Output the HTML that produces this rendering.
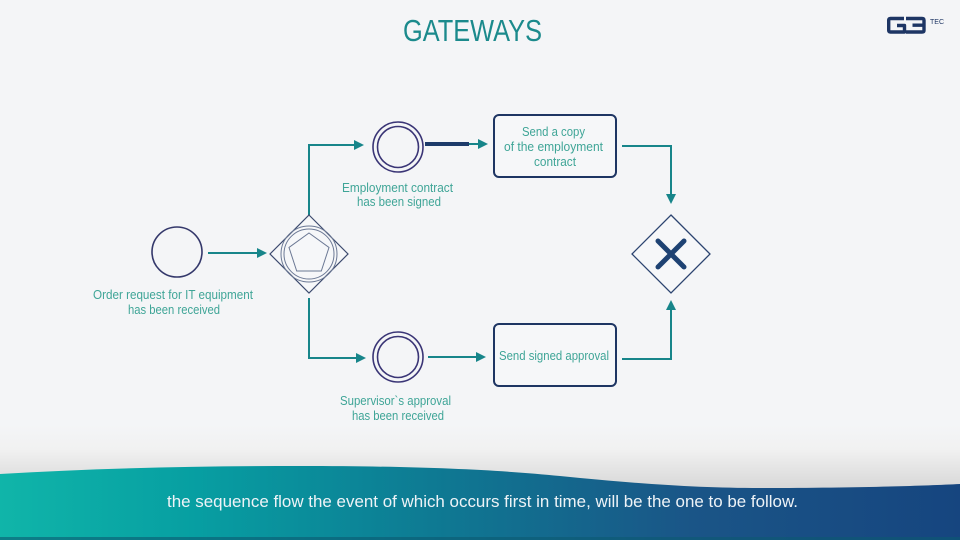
<!DOCTYPE html>
<html><head><meta charset="utf-8"><style>
html,body{margin:0;padding:0;width:960px;height:540px;overflow:hidden;background:#f4f5f7;}
svg{display:block;}
text{font-family:"Liberation Sans",sans-serif;}
</style></head><body>
<svg width="960" height="540" viewBox="0 0 960 540" xmlns="http://www.w3.org/2000/svg">
<defs>
<linearGradient id="shade" x1="0" y1="0" x2="0" y2="1">
<stop offset="0" stop-color="#f4f5f7"/>
<stop offset="0.35" stop-color="#f1f1f1"/>
<stop offset="1" stop-color="#d3d3d3"/>
</linearGradient>
<linearGradient id="wave" x1="0" y1="0" x2="1" y2="0">
<stop offset="0" stop-color="#10b5a9"/>
<stop offset="0.2" stop-color="#079fa2"/>
<stop offset="0.45" stop-color="#0e7a93"/>
<stop offset="0.72" stop-color="#1a5587"/>
<stop offset="1" stop-color="#16457f"/>
</linearGradient>
</defs>
<rect x="0" y="0" width="960" height="540" fill="#f4f5f7"/>
<rect x="0" y="425" width="960" height="70" fill="url(#shade)"/>
<path d="M0,474 C100,468 200,466 300,466 C420,466 500,470 560,476 C640,484 700,488 760,488 C850,488 920,486 960,484 L960,540 L0,540 Z" fill="url(#wave)"/>
<rect x="0" y="537" width="960" height="3" fill="#0c5a72" opacity="0.6"/>
<text x="167" y="507" font-size="17" fill="#eef3f7" textLength="631" lengthAdjust="spacingAndGlyphs">the sequence flow the event of which occurs first in time, will be the one to be follow.</text>

<!-- Title -->
<text x="403" y="41" font-size="31" fill="#1b8a8c" textLength="139" lengthAdjust="spacingAndGlyphs">GATEWAYS</text>

<!-- Logo -->
<g fill="none" stroke="#1d3564" stroke-width="3.4" stroke-linejoin="round">
<path d="M904,18.5 H890.5 Q888.7,18.5 888.7,20.3 V30.2 Q888.7,32 890.5,32 H904.5 V25.5 H897"/>
<path d="M906,18.5 H922 Q924,18.5 924,20.3 V30.2 Q924,32 922,32 H906 M912.5,25.2 H924"/>
</g>
<text x="930" y="24" font-size="7" fill="#1d3564">TEC</text>

<!-- Connectors -->
<g fill="none" stroke="#17858a" stroke-width="2">
<line x1="208" y1="253" x2="259" y2="253"/>
<polyline points="309,215 309,145 355,145"/>
<line x1="468" y1="144" x2="479" y2="144"/>
<polyline points="622,146 671,146 671,195"/>
<polyline points="309,298 309,358 357,358"/>
<line x1="428" y1="357" x2="477" y2="357"/>
<polyline points="622,359 671,359 671,309"/>
</g>
<line x1="425" y1="144" x2="469" y2="144" stroke="#1d3b6a" stroke-width="4"/>
<g fill="#17858a">
<polygon points="267,253 257,248 257,258"/>
<polygon points="364,145 354,140 354,150"/>
<polygon points="488,144 478,139 478,149"/>
<polygon points="671,204 666,194 676,194"/>
<polygon points="366,358 356,353 356,363"/>
<polygon points="486,357 476,352 476,362"/>
<polygon points="671,300 666,310 676,310"/>
</g>

<!-- Start event -->
<circle cx="177" cy="252" r="25" fill="none" stroke="#34386b" stroke-width="1.6"/>
<text x="93" y="299" font-size="13" fill="#3fa597" textLength="160" lengthAdjust="spacingAndGlyphs">Order request for IT equipment</text>
<text x="128" y="314" font-size="13" fill="#3fa597" textLength="92" lengthAdjust="spacingAndGlyphs">has been received</text>

<!-- Event-based gateway -->
<polygon points="309,215 348,254 309,293 270,254" fill="#f6f7f9" stroke="#3c4a6e" stroke-width="1.2"/>
<circle cx="309" cy="254" r="28" fill="none" stroke="#6b7894" stroke-width="1"/>
<circle cx="309" cy="254" r="25" fill="none" stroke="#6b7894" stroke-width="1"/>
<polygon points="309,233 329,247.5 321.3,271 296.7,271 289,247.5" fill="none" stroke="#6b7894" stroke-width="1"/>

<!-- Top intermediate event -->
<circle cx="398" cy="147" r="25" fill="none" stroke="#3a3576" stroke-width="1.6"/>
<circle cx="398" cy="147" r="20.5" fill="none" stroke="#3a3576" stroke-width="1.6"/>
<text x="342" y="192" font-size="13" fill="#3fa597" textLength="111" lengthAdjust="spacingAndGlyphs">Employment contract</text>
<text x="357" y="206" font-size="13" fill="#3fa597" textLength="84" lengthAdjust="spacingAndGlyphs">has been signed</text>

<!-- Top task -->
<rect x="494" y="115" width="122" height="62" rx="5" fill="#f6f7f9" stroke="#1e3563" stroke-width="2"/>
<text x="522" y="136" font-size="13" fill="#3fa597" textLength="63" lengthAdjust="spacingAndGlyphs">Send a copy</text>
<text x="504" y="151" font-size="13" fill="#3fa597" textLength="99" lengthAdjust="spacingAndGlyphs">of the employment</text>
<text x="534" y="166" font-size="13" fill="#3fa597" textLength="42" lengthAdjust="spacingAndGlyphs">contract</text>

<!-- Bottom intermediate event -->
<circle cx="398" cy="357" r="25" fill="none" stroke="#3a3576" stroke-width="1.6"/>
<circle cx="398" cy="357" r="20.5" fill="none" stroke="#3a3576" stroke-width="1.6"/>
<text x="340" y="405" font-size="13" fill="#3fa597" textLength="111" lengthAdjust="spacingAndGlyphs">Supervisor`s approval</text>
<text x="352" y="420" font-size="13" fill="#3fa597" textLength="92" lengthAdjust="spacingAndGlyphs">has been received</text>

<!-- Bottom task -->
<rect x="494" y="324" width="122" height="62" rx="5" fill="#f6f7f9" stroke="#1e3563" stroke-width="2"/>
<text x="499" y="360" font-size="13" fill="#3fa597" textLength="110" lengthAdjust="spacingAndGlyphs">Send signed approval</text>

<!-- Exclusive gateway -->
<polygon points="671,215 710,254 671,293 632,254" fill="#f6f7f9" stroke="#2c4470" stroke-width="1.3"/>
<g stroke="#1e4273" stroke-width="5" stroke-linecap="round">
<line x1="658" y1="241" x2="684" y2="267"/>
<line x1="684" y1="241" x2="658" y2="267"/>
</g>
</svg>
</body></html>
